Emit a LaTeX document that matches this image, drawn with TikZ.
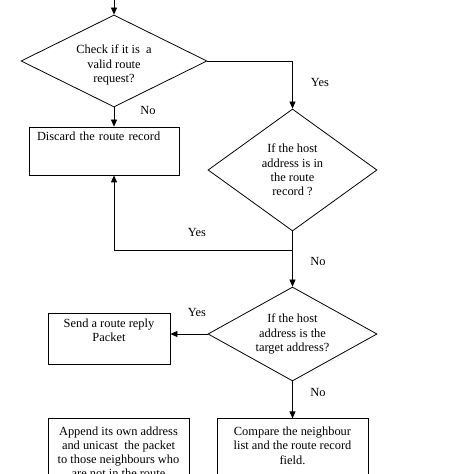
\documentclass[tikz,border=0pt]{standalone}
\usepackage{fontspec}
\setmainfont{Liberation Serif}
\usetikzlibrary{shapes.geometric, arrows.meta, positioning}

\newcommand{\toptext}[2]{\parbox[t][75pt][t]{#1}{\vspace*{3pt}\centering #2}}

\begin{document}
\begin{tikzpicture}[
    x=1pt, y=1pt,
    font=\fontsize{12.4}{14.3}\selectfont,
    decision/.style={diamond, draw, line width=0.8pt, aspect=1.8,
                  inner sep=0pt, align=center},
    action/.style={rectangle, draw, line width=0.8pt, inner sep=5pt,
                  align=center},
    arrow/.style={-{Triangle[length=7pt, width=6pt]}, line width=0.8pt},
    line/.style={line width=0.8pt},
    answer/.style={inner sep=0pt}
]
    \clip (0,0) rectangle (474,474);

    % Decisions
    \coordinate (start) at (114,480);
    \node[decision, minimum width=186pt, minimum height=92pt] (check) at (114,413)
        {\rule{0pt}{17pt}Check if it is\ \ a\\ valid route\\ request?};
    \node[decision, minimum width=169pt, minimum height=122pt] (hostin) at (292.5,304)
        {If the host\\ address is in\\ the route\\ record ?};
    \coordinate (join) at (292.5,224);
    \node[decision, minimum width=169pt, minimum height=94pt] (target) at (292.5,140)
        {If the host\\ address is the\\ target address?};

    % Actions
    \node[action, minimum width=150pt, minimum height=48pt, inner xsep=8pt,
          text height=9pt, text depth=29pt, text width=134pt, align=left] (discard) at (104,323)
        {Discard the route record};
    \node[action, minimum width=122pt, minimum height=48pt] (reply) at (109,135)
        {Send a route reply\\ Packet\\[4pt]};
    \node[action, below=37pt of target, minimum width=151pt, anchor=north] (compare)
        {\toptext{141pt}{Compare the neighbour\\ list and the route record\\ field.}};
    \node[action, minimum width=141pt, anchor=north] (append) at (118.5,56)
        {\toptext{131pt}{Append its own address\\ and unicast\ \ the packet\\ to those neighbours who\\ are not in the route}};

    % Arrows
    \draw[arrow] (start) -- (check);
    \draw[arrow] (check.east) -| (hostin.north);
    \draw[arrow] (check.south) -- (discard.north -| check.south);
    \draw[line] (hostin.south) -- (join);
    \draw[arrow] (join) -| (discard.south -| check.south);
    \draw[arrow] (join) -- (target.north);
    \draw[arrow] (target.west) -- (target.west -| reply.east);
    \draw[arrow] (target.south) -- (compare.north);

    % Answers
    \node[answer] (yes-check) at (320,391) {Yes};
    \node[answer] (no-check) at (148,363) {No};
    \node[answer] (yes-hostin) at (197,241) {Yes};
    \node[answer] (no-hostin) at (318,212) {No};
    \node[answer] (yes-target) at (197,161) {Yes};
    \node[answer] (no-target) at (318,81) {No};
\end{tikzpicture}
\end{document}
